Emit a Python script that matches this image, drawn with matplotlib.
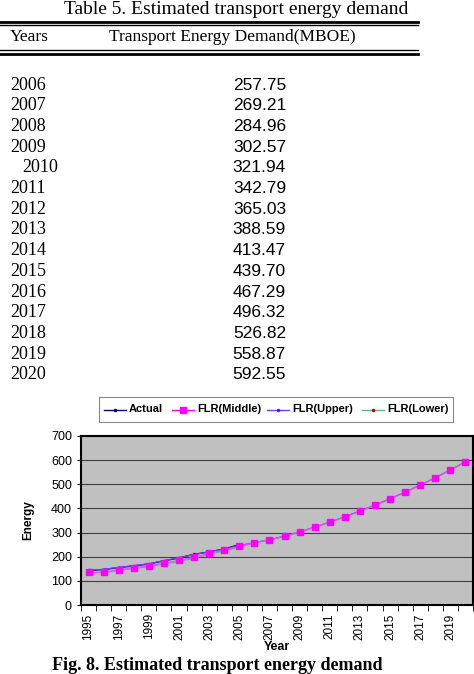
import matplotlib
matplotlib.use("Agg")
import matplotlib.pyplot as plt
from matplotlib.lines import Line2D

table_years = [2006, 2007, 2008, 2009, 2010, 2011, 2012, 2013, 2014, 2015, 2016, 2017, 2018, 2019, 2020]
table_values = ["257.75", "269.21", "284.96", "302.57", "321.94", "342.79", "365.03", "388.59",
                "413.47", "439.70", "467.29", "496.32", "526.82", "558.87", "592.55"]

years = list(range(1995, 2021))
actual_years = list(range(1995, 2006))
actual = [143, 147, 155, 162, 170, 183, 195, 210, 220, 232, 250]
middle = [135, 137, 145, 155, 162, 173, 185, 197, 215, 228, 243] + [float(v) for v in table_values]
upper = [144, 148, 156, 163, 171, 184, 196, 209, 220, 232, 247] + [float(v) + 1 for v in table_values]
lower = [132, 134, 142, 151, 158, 169, 181, 193, 210, 224, 240] + [float(v) - 1 for v in table_values]

W, H = 474, 674
fig = plt.figure(figsize=(W / 100, H / 100), dpi=100)

def fx(x): return x / W
def fy(y): return 1 - y / H

serif = "Liberation Serif"
sans = "Liberation Sans"

fig.text(fx(236), fy(10), "Table 5. Estimated transport energy demand", family=serif, fontsize=14,
         ha="center", va="center")
for y, lw in [(21.5, 2.0), (25, 1.0), (50, 1.0), (53.5, 2.0)]:
    fig.add_artist(Line2D([0, fx(418)], [fy(y), fy(y)], color="black", lw=lw))
fig.text(fx(10), fy(37), "Years", family=serif, fontsize=12.5, va="center")
fig.text(fx(232), fy(37), "Transport Energy Demand(MBOE)", family=serif, fontsize=12.5,
         ha="center", va="center")
for i, (yr, v) in enumerate(zip(table_years, table_values)):
    yy = 85 + i * 20.7
    xoff = 22 if yr == 2010 else 10
    fig.text(fx(xoff), fy(yy), str(yr), family=serif, fontsize=13, va="center")
    fig.text(fx(286), fy(yy), v, family=sans, fontsize=12.5, ha="right", va="center")

# Legend box
leg = fig.add_axes([fx(99), fy(422), fx(354), (422 - 397) / H])
leg.set_xticks([]); leg.set_yticks([])
for s in leg.spines.values():
    s.set_color("#888888")
leg.set_xlim(0, 354); leg.set_ylim(0, 1)
items = [(5, "Actual", "#000080", "o", 1.5, "#000080"),
         (73, "FLR(Middle)", "#ff00ff", "s", 5, "#ff00ff"),
         (168, "FLR(Upper)", "#5050ff", "o", 1.5, "#8000ff"),
         (263, "FLR(Lower)", "#60b080", "o", 1.5, "#c00000")]
for x0, lab, c, m, ms, mc in items:
    leg.plot([x0, x0 + 22], [0.5, 0.5], color=c, lw=1)
    leg.plot([x0 + 11], [0.5], marker=m, ms=ms, color=mc, ls="none")
    leg.text(x0 + 25, 0.5, lab, family=sans, fontsize=8, fontweight="bold", va="center")

ax = fig.add_axes([fx(81), fy(605), fx(392), (605 - 436) / H])
ax.set_facecolor("#c0c0c0")
ax.plot(actual_years, actual, color="#000080", lw=1, marker="o", ms=1.5)
ax.plot(years, upper, color="#5050ff", lw=0.8, marker="o", ms=1, mfc="#8000ff")
ax.plot(years, lower, color="#60b080", lw=0.8, marker="o", ms=1, mfc="#c00000")
ax.plot(years, middle, color="#ff40ff", lw=0.8, marker="s", ms=4, mfc="#ff00ff", mec="#ff00ff")
ax.set_xlim(1994.5, 2020.5)
ax.set_ylim(0, 700)
ax.set_yticks(range(0, 701, 100))
ax.grid(axis="y", color="#404040", lw=0.8)
ax.set_axisbelow(True)
ax.set_xticks(years[::2])
ax.set_xticklabels([str(y) for y in years[::2]], rotation=90, family=sans, fontsize=8.5)
ax.set_xticks([y + 0.5 for y in range(1994, 2021)], minor=True)
ax.tick_params(axis="x", which="major", length=0, pad=6)
ax.tick_params(axis="x", which="minor", length=4)
ax.tick_params(axis="y", labelsize=9, length=3)
for t in ax.get_yticklabels():
    t.set_family(sans)
for s in ax.spines.values():
    s.set_linewidth(1.5)
ax.set_xlabel("Year", family=sans, fontsize=9, fontweight="bold", labelpad=1)
ax.set_ylabel("Energy", family=sans, fontsize=8.5, fontweight="bold", labelpad=12)

fig.text(fx(52), fy(666), "Fig. 8. Estimated transport energy demand", family=serif,
         fontsize=13, fontweight="bold", va="center")

fig.savefig("out.png", dpi=100)
